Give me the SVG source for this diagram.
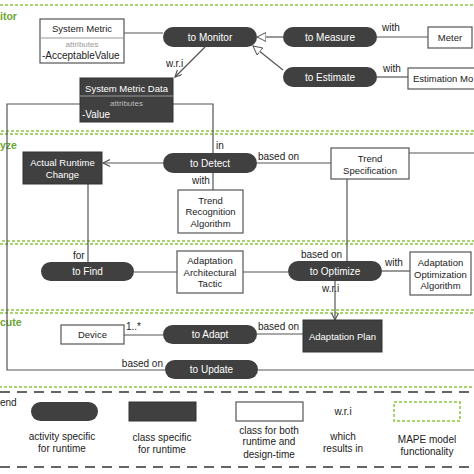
<svg xmlns="http://www.w3.org/2000/svg" width="474" height="474" viewBox="0 0 474 474">
<defs>
<style>
text{font-family:"Liberation Sans",Arial,sans-serif;font-size:10px;fill:#222}
.c{text-anchor:middle}
.w{fill:#fff}
.pill{fill:#404040}
.dark{fill:#404040;stroke:#333;stroke-width:1}
.box{fill:#fff;stroke:#555;stroke-width:1.2}
.ln{fill:none;stroke:#555;stroke-width:1.2}
.sec{fill:none;stroke:#8cc63f;stroke-width:1.5;stroke-dasharray:3 2}
.lab{fill:#6aa632;font-weight:bold;font-size:10.5px}
.attr{font-size:8px;text-anchor:middle}
.leg{fill:none;stroke:#333;stroke-width:1.6;stroke-dasharray:10 7}
</style>
<marker id="tri" markerUnits="userSpaceOnUse" markerWidth="12" markerHeight="12" refX="9" refY="4.5" orient="auto"><path d="M0,0 L9,4.5 L0,9 z" fill="#fff" stroke="#555" stroke-width="1"/></marker>
<marker id="open" markerUnits="userSpaceOnUse" markerWidth="10" markerHeight="10" refX="7" refY="3.5" orient="auto"><path d="M0,0 L7,3.5 L0,7" fill="none" stroke="#555" stroke-width="1.2"/></marker>
</defs>

<g id="sections">
<rect class="sec" x="-20" y="5" width="514" height="126"/>
<rect class="sec" x="-20" y="134" width="514" height="107"/>
<rect class="sec" x="-20" y="244" width="514" height="66"/>
<rect class="sec" x="-20" y="313" width="514" height="74"/>
<text class="lab" x="0" y="20">itor</text>
<text class="lab" x="0" y="149">yze</text>
<text class="lab" x="0" y="326">cute</text>
</g>

<g id="connectors">
<path class="ln" d="M124 33 H163"/>
<path class="ln" d="M283 37 H257" marker-end="url(#tri)"/>
<path class="ln" d="M283 70 L253 46" marker-end="url(#tri)"/>
<path class="ln" d="M377 37 H428"/>
<path class="ln" d="M377 77 H408"/>
<path class="ln" d="M205 47 L175 77" marker-end="url(#open)"/>
<path class="ln" d="M173 104 H213 V153"/>
<path class="ln" d="M80 104 H7 V370 H165"/>
<path class="ln" d="M258 370 H474"/>
<path class="ln" d="M163 163 H103" marker-end="url(#open)"/>
<path class="ln" d="M213 173 V190"/>
<path class="ln" d="M257 163 H331"/>
<path class="ln" d="M409 153 H474"/>
<path class="ln" d="M347 179 V261"/>
<path class="ln" d="M88 184 V262"/>
<path class="ln" d="M134 272 H177"/>
<path class="ln" d="M243 272 H288"/>
<path class="ln" d="M382 271 H410"/>
<path class="ln" d="M335 281 V320" marker-end="url(#open)"/>
<path class="ln" d="M124 335 H163"/>
<path class="ln" d="M257 334 H303"/>
<text x="382" y="31">with</text>
<text x="383" y="72">with</text>
<text x="166" y="67">w.r.i</text>
<text x="216" y="149">in</text>
<text x="163" y="367" text-anchor="end">based on</text>
<text x="192" y="184">with</text>
<text x="258" y="160">based on</text>
<text x="73" y="259">for</text>
<text x="301" y="257.5">based on</text>
<text x="385" y="265.5">with</text>
<text x="322" y="292">w.r.i</text>
<text x="126" y="330">1..*</text>
<text x="258" y="330">based on</text>
</g>

<g id="system-metric">
<rect class="box" x="40" y="19" width="84" height="44"/>
<line x1="40" y1="38" x2="124" y2="38" stroke="#999" stroke-width="1"/>
<text class="c" x="82" y="32" style="font-size:9.5px">System Metric</text>
<text class="attr" x="82" y="47" style="fill:#999">attributes</text>
<text x="42" y="59">-AcceptableValue</text>
</g>
<g id="to-monitor">
<rect class="pill" x="163" y="27" width="94" height="20" rx="10"/>
<text class="c w" x="210" y="40.5">to Monitor</text>
</g>
<g id="system-metric-data">
<rect class="dark" x="80" y="78" width="93" height="44"/>
<line x1="80" y1="96" x2="173" y2="96" stroke="#999" stroke-width="1"/>
<text class="c w" x="126.5" y="92" style="font-size:9.5px">System Metric Data</text>
<text class="attr" x="126.5" y="106" style="fill:#bbb">attributes</text>
<text class="w" x="82" y="118">-Value</text>
</g>
<g id="to-measure">
<rect class="pill" x="283" y="27" width="94" height="20" rx="10"/>
<text class="c w" x="330" y="40.5">to Measure</text>
</g>
<g id="to-estimate">
<rect class="pill" x="283" y="67" width="94" height="20" rx="10"/>
<text class="c w" x="330" y="80.5">to Estimate</text>
</g>
<g id="meter">
<rect class="box" x="428" y="27" width="44" height="21"/>
<text class="c" x="450" y="41" style="font-size:9.5px">Meter</text>
</g>
<g id="estimation-model">
<rect class="box" x="408" y="68" width="80" height="21"/>
<text x="413" y="82" style="font-size:9.5px">Estimation Mo</text>
</g>

<g id="to-detect">
<rect class="pill" x="163" y="153" width="94" height="20" rx="10"/>
<text class="c w" x="210" y="166.5">to Detect</text>
</g>
<g id="actual-runtime-change">
<rect class="dark" x="23" y="152" width="79" height="32"/>
<text class="c w" x="62.5" y="166" style="font-size:9.5px">Actual Runtime</text>
<text class="c w" x="62.5" y="177.5" style="font-size:9.5px">Change</text>
</g>
<g id="trend-recognition-algorithm">
<rect class="box" x="178" y="190" width="65" height="43"/>
<text class="c" x="210.5" y="203.5" style="font-size:9.5px">Trend</text>
<text class="c" x="210.5" y="215" style="font-size:9.5px">Recognition</text>
<text class="c" x="210.5" y="226.5" style="font-size:9.5px">Algorithm</text>
</g>
<g id="trend-specification">
<rect class="box" x="331" y="148" width="78" height="31"/>
<text class="c" x="370" y="161.5" style="font-size:9.5px">Trend</text>
<text class="c" x="370" y="173.5" style="font-size:9.5px">Specification</text>
</g>

<g id="to-find">
<rect class="pill" x="41" y="262" width="93" height="19" rx="9.5"/>
<text class="c w" x="87.5" y="275">to Find</text>
</g>
<g id="adaptation-architectural-tactic">
<rect class="box" x="177" y="251" width="66" height="42"/>
<text class="c" x="210" y="264" style="font-size:9.5px">Adaptation</text>
<text class="c" x="210" y="275.5" style="font-size:9.5px">Architectural</text>
<text class="c" x="210" y="287" style="font-size:9.5px">Tactic</text>
</g>
<g id="to-optimize">
<rect class="pill" x="288" y="261" width="94" height="20" rx="10"/>
<text class="c w" x="335" y="274.5">to Optimize</text>
</g>
<g id="adaptation-optimization-algorithm">
<rect class="box" x="410" y="252" width="61" height="43"/>
<text class="c" x="440.5" y="266" style="font-size:9.5px">Adaptation</text>
<text class="c" x="440.5" y="277.5" style="font-size:9.5px">Optimization</text>
<text class="c" x="440.5" y="289" style="font-size:9.5px">Algorithm</text>
</g>

<g id="device">
<rect class="box" x="61" y="325" width="63" height="19"/>
<text class="c" x="92.5" y="338" style="font-size:9.5px">Device</text>
</g>
<g id="to-adapt">
<rect class="pill" x="163" y="325" width="94" height="19" rx="9.5"/>
<text class="c w" x="210" y="338">to Adapt</text>
</g>
<g id="adaptation-plan">
<rect class="dark" x="303" y="320" width="79" height="32"/>
<text class="c w" x="342.5" y="340" style="font-size:9.5px">Adaptation Plan</text>
</g>
<g id="to-update">
<rect class="pill" x="165" y="360" width="93" height="19" rx="9.5"/>
<text class="c w" x="211.5" y="373">to Update</text>
</g>

<g id="legend">
<line class="leg" x1="0" y1="392" x2="474" y2="392"/>
<line class="leg" x1="0" y1="467" x2="474" y2="467"/>
<text x="0" y="406">end</text>
<rect class="pill" x="31" y="402" width="67" height="19" rx="9.5"/>
<text class="c" x="62" y="440">activity specific</text>
<text class="c" x="62" y="451.5">for runtime</text>
<rect class="dark" x="129" y="402" width="67" height="19"/>
<text class="c" x="162" y="441">class specific</text>
<text class="c" x="162" y="452.5">for runtime</text>
<rect class="box" x="236" y="402" width="67" height="19"/>
<text class="c" x="269" y="433.5">class for both</text>
<text class="c" x="269" y="445">runtime and</text>
<text class="c" x="269" y="457.5">design-time</text>
<text class="c" x="343" y="415">w.r.i</text>
<text class="c" x="343" y="440">which</text>
<text class="c" x="343" y="451.5">results in</text>
<rect class="sec" x="394" y="402" width="66" height="19"/>
<text class="c" x="427" y="442.5">MAPE model</text>
<text class="c" x="427" y="454.5">functionality</text>
</g>
</svg>
